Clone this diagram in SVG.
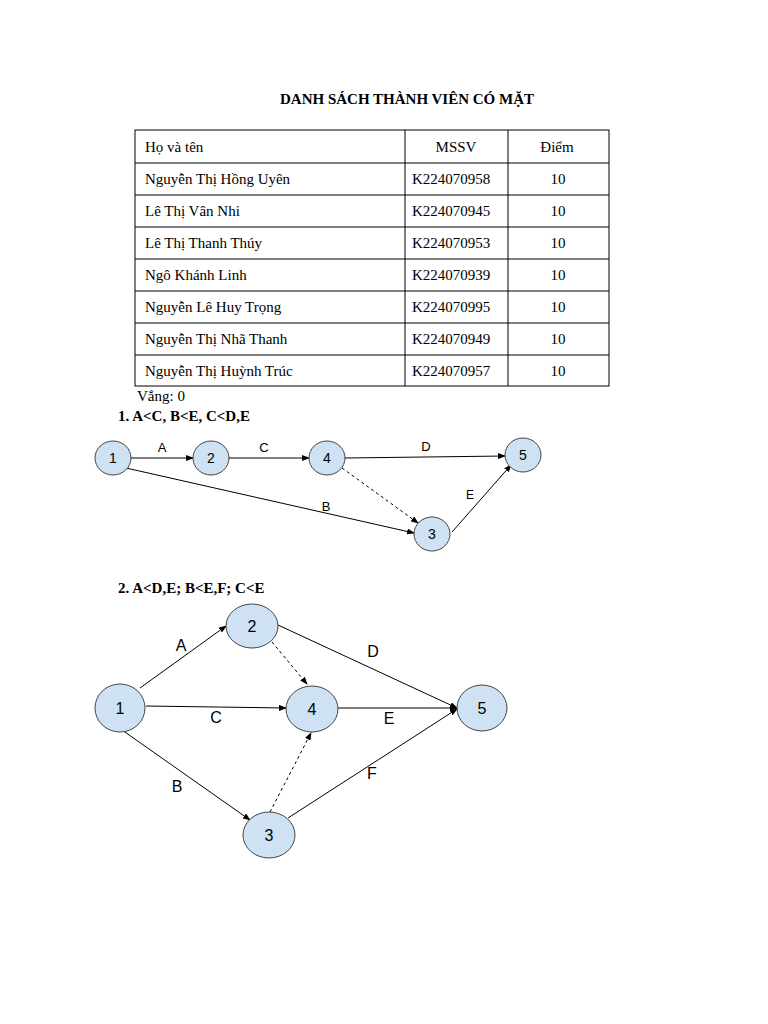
<svg xmlns="http://www.w3.org/2000/svg" width="768" height="1024" viewBox="0 0 768 1024">
<style>
.t{font-family:"Liberation Serif",serif;font-size:15px;fill:#000}
.b{font-weight:bold}
.n{fill:#cfe2f3;stroke:#444;stroke-width:1}
.l{font-family:"Liberation Sans",sans-serif;fill:#000}
.c{stroke:#000;stroke-width:1;fill:none;marker-end:url(#a)}
.d{stroke-dasharray:3,3}
.g line{stroke:#000;stroke-width:1}
</style>
<defs><marker id="a" markerWidth="8" markerHeight="6" refX="7" refY="3" orient="auto" markerUnits="userSpaceOnUse"><path d="M0,0L8,3L0,6z" fill="#000"/></marker></defs>
<rect width="768" height="1024" fill="#fff"/>
<text class="t b" x="407" y="104" text-anchor="middle" font-size="16">DANH SÁCH THÀNH VIÊN CÓ MẶT</text>
<g class="g">
<rect x="135" y="130" width="474" height="256" fill="none" stroke="#000"/>
<line x1="405" y1="130" x2="405" y2="386"/><line x1="508" y1="130" x2="508" y2="386"/>
<line x1="135" y1="163" x2="609" y2="163"/><line x1="135" y1="195" x2="609" y2="195"/><line x1="135" y1="227" x2="609" y2="227"/><line x1="135" y1="259" x2="609" y2="259"/><line x1="135" y1="291" x2="609" y2="291"/><line x1="135" y1="323" x2="609" y2="323"/><line x1="135" y1="355" x2="609" y2="355"/>
</g>
<g class="t">
<text x="145" y="152">Họ và tên</text><text x="456" y="152" text-anchor="middle">MSSV</text><text x="557" y="152" text-anchor="middle">Điểm</text>
<text x="145" y="184">Nguyễn Thị Hồng Uyên</text><text x="412" y="184">K224070958</text><text x="558" y="184" text-anchor="middle">10</text>
<text x="145" y="216">Lê Thị Vân Nhi</text><text x="412" y="216">K224070945</text><text x="558" y="216" text-anchor="middle">10</text>
<text x="145" y="248">Lê Thị Thanh Thúy</text><text x="412" y="248">K224070953</text><text x="558" y="248" text-anchor="middle">10</text>
<text x="145" y="280">Ngô Khánh Linh</text><text x="412" y="280">K224070939</text><text x="558" y="280" text-anchor="middle">10</text>
<text x="145" y="312">Nguyễn Lê Huy Trọng</text><text x="412" y="312">K224070995</text><text x="558" y="312" text-anchor="middle">10</text>
<text x="145" y="344">Nguyễn Thị Nhã Thanh</text><text x="412" y="344">K224070949</text><text x="558" y="344" text-anchor="middle">10</text>
<text x="145" y="376">Nguyễn Thị Huỳnh Trúc</text><text x="412" y="376">K224070957</text><text x="558" y="376" text-anchor="middle">10</text>
<text x="137" y="401">Vắng: 0</text>
<text class="b" x="118" y="421">1.   A&lt;C, B&lt;E, C&lt;D,E</text>
<text class="b" x="118" y="593">2.   A&lt;D,E; B&lt;E,F; C&lt;E</text>
</g>
<g id="connectors1">
<line class="c" x1="131" y1="458" x2="193" y2="458"/>
<line class="c" x1="229" y1="458" x2="309" y2="458"/>
<line class="c" x1="345" y1="458" x2="505" y2="456"/>
<line class="c" x1="126" y1="468" x2="414" y2="533"/>
<line class="c d" x1="342" y1="468" x2="418" y2="523"/>
<line class="c" x1="452" y1="532" x2="511" y2="465"/>
</g>
<g class="l" font-size="13">
<text x="162" y="452" text-anchor="middle">A</text><text x="264" y="452" text-anchor="middle">C</text><text x="426" y="451" text-anchor="middle">D</text><text x="326" y="511" text-anchor="middle">B</text><text x="470" y="499" text-anchor="middle" font-size="12">E</text>
</g>
<g id="n1_1"><ellipse class="n" cx="113" cy="458" rx="18" ry="17"/><text class="l" x="113" y="463" text-anchor="middle" font-size="14">1</text></g>
<g id="n1_2"><ellipse class="n" cx="211" cy="458" rx="18" ry="17"/><text class="l" x="211" y="463" text-anchor="middle" font-size="14">2</text></g>
<g id="n1_4"><ellipse class="n" cx="327" cy="458" rx="18" ry="17"/><text class="l" x="327" y="463" text-anchor="middle" font-size="14">4</text></g>
<g id="n1_5"><ellipse class="n" cx="523" cy="455" rx="18" ry="17"/><text class="l" x="523" y="460" text-anchor="middle" font-size="14">5</text></g>
<g id="n1_3"><ellipse class="n" cx="432" cy="534" rx="18" ry="17"/><text class="l" x="432" y="539" text-anchor="middle" font-size="14">3</text></g>
<g id="connectors2">
<line class="c" x1="140" y1="688" x2="226" y2="626"/>
<line class="c" x1="146" y1="706" x2="286" y2="708"/>
<line class="c" x1="122" y1="730" x2="250" y2="820"/>
<line class="c d" x1="272" y1="642" x2="307" y2="684"/>
<line class="c d" x1="270" y1="812" x2="311" y2="733"/>
<line class="c" x1="278" y1="625" x2="457" y2="708"/>
<line class="c" x1="338" y1="708" x2="457" y2="708"/>
<line class="c" x1="288" y1="818" x2="457" y2="709"/>
</g>
<g class="l" font-size="16">
<text x="181" y="651" text-anchor="middle">A</text><text x="216" y="723" text-anchor="middle">C</text><text x="177" y="792" text-anchor="middle">B</text><text x="373" y="657" text-anchor="middle">D</text><text x="389" y="724" text-anchor="middle">E</text><text x="372" y="779" text-anchor="middle">F</text>
</g>
<g font-size="16" class="l">
<g id="n2_1"><ellipse class="n" cx="120" cy="708" rx="25" ry="24"/><text x="120" y="714" text-anchor="middle">1</text></g>
<g id="n2_2"><ellipse class="n" cx="252" cy="626" rx="26" ry="22"/><text x="252" y="632" text-anchor="middle">2</text></g>
<g id="n2_4"><ellipse class="n" cx="312" cy="709" rx="26" ry="23"/><text x="312" y="715" text-anchor="middle">4</text></g>
<g id="n2_5"><ellipse class="n" cx="482" cy="708" rx="25" ry="23"/><text x="482" y="714" text-anchor="middle">5</text></g>
<g id="n2_3"><ellipse class="n" cx="269" cy="835" rx="26" ry="23"/><text x="269" y="841" text-anchor="middle">3</text></g>
</g>
</svg>
